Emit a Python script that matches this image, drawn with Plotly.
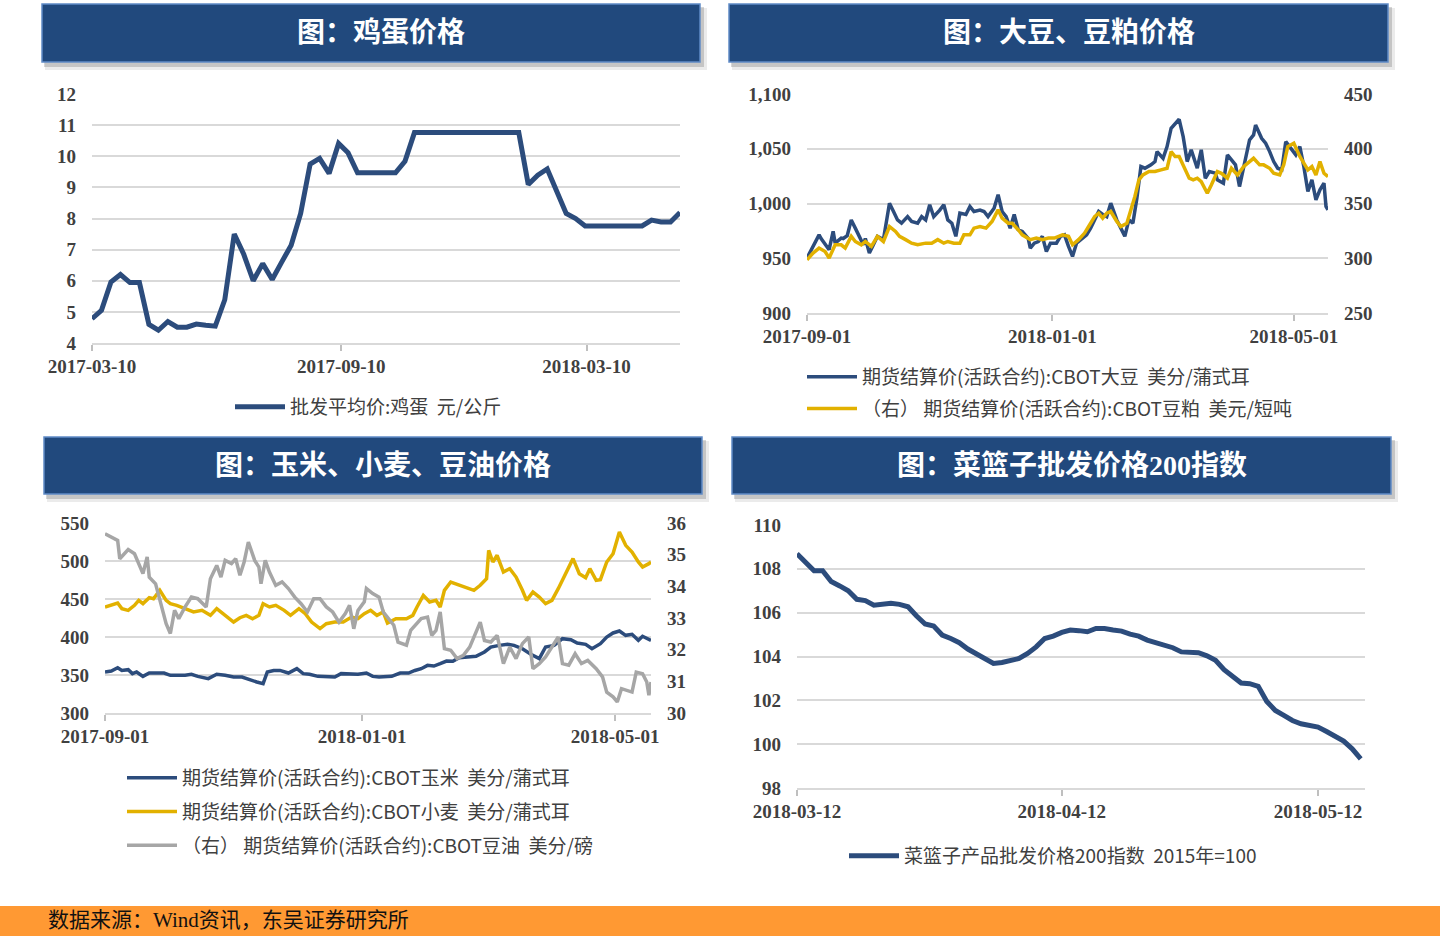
import plotly.graph_objects as go
import pandas as pd

# ---------------- DATA ----------------
# Chart 1: egg wholesale price, weekly from 2017-03-10 (yuan/kg)
egg_start = "2017-03-10"
egg_price = [4.78, 5.05, 5.96, 6.2, 5.94, 5.94, 4.6, 4.41, 4.69, 4.51,
             4.51, 4.61, 4.57, 4.54, 5.39, 7.5, 6.85, 6.0, 6.55, 6.04,
             6.6, 7.14, 8.16, 9.75, 9.93, 9.45, 10.41, 10.11, 9.47, 9.47,
             9.47, 9.47, 9.47, 9.84, 10.76, 10.76, 10.76, 10.76, 10.76, 10.76,
             10.76, 10.76, 10.76, 10.76, 10.76, 10.76, 9.09, 9.39, 9.59, 8.88,
             8.16, 8.0, 7.76, 7.76, 7.76, 7.76, 7.76, 7.76, 7.76, 7.95,
             7.89, 7.89, 8.19]
egg_ticks = ["2017-03-10", "2017-09-10", "2018-03-10"]

# Chart 2: CBOT soybean (left, US cents/bu) & soybean meal (right, USD/short ton)
# x values are days since 2017-09-01
soy_start = "2017-09-01"
soy_day = [0, 3, 6, 7, 10, 11, 13, 14, 17, 18,
           20, 22, 24, 26, 28, 29, 31, 33, 35, 38,
           41, 43, 45, 47, 50, 52, 55, 57, 59, 61,
           63, 66, 68, 70, 72, 74, 76, 79, 81, 83,
           86, 88, 90, 93, 95, 97, 99, 101, 103, 105,
           107, 110, 111, 113, 115, 117, 119, 121, 124, 126,
           128, 130, 132, 134, 137, 139, 141, 143, 145, 147,
           149, 151, 154, 156, 158, 160, 162, 164, 166, 168,
           171, 173, 174, 177, 179, 181, 183, 185, 187, 189,
           191, 194, 196, 198, 200, 203, 204, 207, 209, 211,
           213, 215, 217, 220, 222, 223, 226, 228, 230, 232,
           234, 236, 238, 240, 243, 245, 247, 249, 251, 253,
           255, 257, 258, 259]
soy_val = [950.2, 960.8, 971.4, 968, 960.8, 957.8, 974.5, 963.8, 968.4, 968,
           970.5, 985, 977.5, 970, 962.3, 968, 954.7, 962.3, 970, 967,
           1000.3, 992.7, 985, 982, 988, 983.6, 982, 988, 985, 998.8,
           988, 994, 998.8, 985, 982, 970, 991.2, 990, 997.3, 992.7,
           994, 992.7, 988, 995.7, 1008, 992.7, 988, 977.5, 990, 976,
           974.5, 968, 959.3, 963.8, 965.3, 970, 956.2, 963.8, 963.8, 970,
           971.4, 960.8, 951.7, 963.8, 968, 971.4, 977.5, 985, 992.7, 990,
           988, 1000.3, 985, 977.5, 970, 985, 982, 1004.9, 1033.7, 1032.2,
           1035.3, 1038.3, 1047.4, 1041.3, 1052, 1068.7, 1073.3, 1076.9, 1061, 1038.3,
           1049, 1032.2, 1049, 1023, 1029.2, 1027.7, 1021.6, 1018.5, 1044.4, 1039.8,
           1035.3, 1015.5, 1032.2, 1058, 1062.6, 1071.7, 1059.6, 1055, 1047.4, 1038.3,
           1032.2, 1030.7, 1056.5, 1052, 1044.4, 1052, 1033.7, 1011, 1021.6, 1003.4,
           1012.5, 1018.5, 997.3, 994.2]
meal_day = [0, 3, 6, 9, 11, 14, 17, 19, 22, 24,
            27, 29, 32, 35, 38, 41, 44, 46, 49, 52,
            55, 59, 62, 65, 68, 70, 73, 76, 78, 81,
            83, 86, 89, 92, 95, 97, 100, 102, 105, 107,
            111, 114, 117, 120, 123, 127, 130, 132, 135, 138,
            140, 143, 145, 147, 149, 151, 154, 156, 159, 161,
            163, 165, 167, 170, 173, 176, 179, 181, 183, 185,
            188, 190, 192, 194, 196, 199, 201, 204, 206, 209,
            211, 214, 217, 220, 222, 225, 227, 230, 232, 235,
            237, 239, 242, 245, 247, 249, 251, 253, 255, 257,
            259]
meal_val = [298.6, 304.7, 309.3, 306.2, 300.2, 312.3, 312.3, 309.3, 320, 315.3,
            312.3, 315.3, 310.8, 320, 315.3, 329, 324.5, 320, 317, 313.8,
            312.3, 313.8, 313.8, 317, 313.8, 315.3, 313.8, 313.8, 321.4, 321.4,
            327.5, 329, 327.5, 333.6, 344.2, 336.6, 332, 332, 326, 321.4,
            317, 318.4, 317, 318.4, 318.4, 321.4, 320, 312.3, 317, 323,
            329, 338.1, 341.2, 336.6, 341.2, 342.7, 333.6, 329, 332, 344.2,
            356.4, 371.6, 376.1, 379.2, 379.2, 380.7, 382.2, 397.4, 392.9, 392.9,
            380.7, 373.1, 371.6, 373.1, 370, 359.4, 367, 379.2, 377.6, 373.1,
            382.2, 376.1, 383.7, 388.3, 391.3, 385.3, 385.3, 382.2, 377.6, 376.1,
            385.3, 402, 405, 392.9, 386.8, 380.7, 383.7, 376.1, 388.3, 377.6,
            374.6]
soy_ticks = ["2017-09-01", "2018-01-01", "2018-05-01"]

# Chart 3: CBOT corn, wheat (left, US cents/bu) & soybean oil (right, US cents/lb)
corn_day = [0, 3, 6, 8, 11, 13, 15, 18, 21, 24,
            28, 31, 34, 38, 41, 44, 49, 53, 57, 61,
            65, 69, 72, 75, 77, 80, 83, 87, 91, 94,
            97, 101, 105, 109, 112, 116, 120, 124, 127, 130,
            133, 136, 140, 144, 147, 150, 153, 156, 159, 162,
            165, 168, 172, 176, 180, 183, 187, 191, 194, 198,
            202, 206, 209, 213, 217, 221, 224, 228, 231, 235,
            238, 241, 244, 247, 250, 253, 255, 259]
corn_val = [354, 355.3, 359.6, 356, 357, 351.8, 354, 348.2, 352.6, 352.6,
            352.6, 349.6, 349.6, 349.6, 351, 348.2, 345.2, 351, 349.6, 347.4,
            347.4, 343, 340.8, 338.6, 354, 356, 356, 352.6, 358.3, 351.8,
            351, 348.2, 347.4, 347.4, 351.8, 351.8, 351, 352.6, 348.2, 347.4,
            347.4, 348.2, 352.6, 352.6, 356, 358.3, 362.7, 361.8, 364.9, 368.4,
            368, 372.8, 373.7, 374.6, 380.3, 386.8, 389, 390.4, 389, 384.6,
            377.2, 371.5, 386.8, 389, 397.8, 396.5, 392.1, 390.4, 384.6, 391.2,
            400, 405.3, 407.9, 402.2, 403.5, 395.6, 401, 395.6]
wheat_day = [0, 3, 6, 8, 11, 14, 16, 18, 21, 23,
             26, 29, 31, 34, 38, 42, 46, 50, 53, 57,
             61, 64, 67, 70, 73, 75, 78, 81, 85, 88,
             92, 95, 98, 102, 105, 109, 113, 117, 120, 123,
             126, 129, 132, 134, 138, 143, 146, 148, 151, 154,
             157, 159, 161, 164, 168, 172, 175, 178, 181, 182,
             184, 186, 189, 192, 195, 198, 200, 203, 206, 209,
             212, 215, 219, 222, 225, 228, 230, 233, 235, 238,
             241, 244, 247, 250, 253, 255, 258, 259]
wheat_val = [439.5, 441.7, 444.7, 437.3, 435.1, 441.7, 448.2, 443.9, 451.8, 450.4,
             461.4, 448.2, 443.9, 441.7, 437.3, 432.9, 435.1, 428.5, 437.3, 428.5,
             419.7, 425.4, 428.5, 424.1, 428.5, 443.9, 439.5, 441.7, 435.1, 428.5,
             437.3, 430.7, 419.7, 411, 417.5, 419.7, 419.7, 426.3, 424.1, 430.7,
             435.1, 428.5, 432.9, 418.4, 424.1, 424.1, 428.5, 439.5, 454.8, 446,
             448.2, 439.5, 461.4, 472.4, 468, 463.6, 461.4, 468, 476.8, 514,
             498.7, 507.5, 485.5, 489.9, 478.9, 461.4, 448.2, 459.2, 452.6, 443.9,
             448.2, 463.6, 487.7, 503.1, 483.3, 478.1, 489.9, 474.6, 475.4, 498.7,
             509.6, 538.2, 520.6, 511.8, 498.7, 492.1, 496.5, 498.7]
oil_day = [0, 3, 6, 7, 9, 11, 14, 16, 18, 20,
           21, 24, 26, 29, 31, 33, 35, 38, 41, 44,
           48, 50, 53, 55, 57, 60, 62, 64, 66, 68,
           71, 73, 74, 76, 78, 81, 84, 87, 90, 93,
           96, 99, 102, 105, 108, 111, 114, 116, 118, 120,
           123, 124, 127, 130, 132, 134, 137, 139, 143, 145,
           147, 150, 153, 155, 157, 159, 161, 164, 167, 170,
           173, 176, 178, 180, 183, 186, 189, 192, 195, 198,
           201, 203, 206, 209, 212, 215, 217, 220, 223, 226,
           229, 233, 236, 238, 241, 243, 245, 248, 250, 252,
           255, 257, 258, 259]
oil_val = [35.66, 35.56, 35.45, 34.87, 35.03, 35.16, 35.03, 34.72, 34.4, 34.93,
           34.29, 34.08, 33.61, 32.82, 32.51, 33.24, 32.98, 33.35, 33.66, 33.61,
           33.35, 34.24, 34.66, 34.29, 34.82, 34.72, 34.87, 34.35, 34.77, 35.4,
           34.82, 34.61, 34.08, 34.82, 34.45, 34.03, 34.14, 33.93, 33.66, 33.45,
           33.19, 33.61, 33.61, 33.35, 33.19, 32.87, 33.14, 33.4, 32.66, 33.24,
           33.51, 33.93, 33.77, 33.66, 33.19, 33.03, 32.77, 32.24, 32.14, 32.61,
           32.77, 32.98, 33.03, 32.45, 32.61, 33.19, 32.03, 31.98, 31.72, 31.82,
           32.08, 32.56, 32.87, 32.29, 32.24, 32.45, 31.56, 32.08, 31.72, 32.19,
           32.4, 31.4, 31.56, 31.77, 32.08, 32.4, 31.56, 31.51, 31.87, 31.56,
           31.66, 31.4, 31.14, 30.66, 30.51, 30.35, 30.77, 30.72, 30.66, 31.29,
           31.24, 30.98, 30.56, 30.98]

# Chart 4: vegetable basket wholesale price 200 index (2015=100), daily from 2018-03-12
veg_start = "2018-03-12"
veg_index = [108.69, 108.29, 107.91, 107.91, 107.42, 107.22, 107.0, 106.61, 106.55, 106.34,
             106.37, 106.43, 106.38, 106.27, 105.85, 105.48, 105.39, 104.98, 104.82, 104.63,
             104.34, 104.11, 103.86, 103.68, 103.73, 103.83, 103.91, 104.14, 104.44, 104.82,
             104.93, 105.1, 105.21, 105.18, 105.13, 105.28, 105.28, 105.21, 105.16, 105.02,
             104.93, 104.75, 104.63, 104.56, 104.4, 104.21, 104.18, 104.17, 104.03, 103.83,
             103.4, 103.1, 102.79, 102.76, 102.64, 101.95, 101.54, 101.31, 101.08, 100.93,
             100.85, 100.78, 100.58, 100.35, 100.14, 99.79, 99.33]
veg_ticks = ["2018-03-12", "2018-04-12", "2018-05-12"]

# ---------------- STYLE ----------------
W, H = 1440, 936
BLUE = "#2C4C7C"
GOLD = "#E2B100"
GRAY = "#A6A6A6"
GRID = "#D9D9D9"
BAR = "#21497D"
BAR_EDGE = "#5F8BC6"
TXT = "#404040"
TICKFONT = dict(family="Liberation Serif", size=19, color=TXT, weight="bold")
LEGFONT = dict(family="Noto Sans CJK SC", size=19, color=TXT)
TITLEFONT = dict(family="Liberation Serif, Noto Sans CJK SC", size=28, color="white", weight="bold")


def px(x):
    return x / W


def py(y):
    return 1 - y / H


def to_dates(start, offsets):
    return pd.Timestamp(start) + pd.to_timedelta(offsets, unit="D")


egg_dates = pd.date_range(egg_start, periods=len(egg_price), freq="7D")
veg_dates = pd.date_range(veg_start, periods=len(veg_index), freq="D")

fig = go.Figure()

fig.add_trace(go.Scatter(x=egg_dates, y=egg_price, mode="lines",
                         line=dict(color=BLUE, width=5), showlegend=True,
                         name="批发平均价:鸡蛋\u00a0\u00a0元/公斤",
                         xaxis="x", yaxis="y", legend="legend"))

fig.add_trace(go.Scatter(x=to_dates(soy_start, soy_day), y=soy_val, mode="lines",
                         line=dict(color=BLUE, width=3.5), showlegend=True,
                         name="期货结算价(活跃合约):CBOT大豆\u00a0\u00a0美分/蒲式耳",
                         xaxis="x2", yaxis="y2", legend="legend2", legendgroup="a"))
fig.add_trace(go.Scatter(x=to_dates(soy_start, meal_day), y=meal_val, mode="lines",
                         line=dict(color=GOLD, width=3.5), showlegend=True,
                         name="（右）\u00a0期货结算价(活跃合约):CBOT豆粕\u00a0\u00a0美元/短吨",
                         xaxis="x2", yaxis="y3", legend="legend2", legendgroup="b"))

fig.add_trace(go.Scatter(x=to_dates(soy_start, corn_day), y=corn_val, mode="lines",
                         line=dict(color=BLUE, width=3.5), showlegend=True,
                         name="期货结算价(活跃合约):CBOT玉米\u00a0\u00a0美分/蒲式耳",
                         xaxis="x3", yaxis="y4", legend="legend3", legendgroup="c"))
fig.add_trace(go.Scatter(x=to_dates(soy_start, wheat_day), y=wheat_val, mode="lines",
                         line=dict(color=GOLD, width=3.5), showlegend=True,
                         name="期货结算价(活跃合约):CBOT小麦\u00a0\u00a0美分/蒲式耳",
                         xaxis="x3", yaxis="y4", legend="legend3", legendgroup="d"))
fig.add_trace(go.Scatter(x=to_dates(soy_start, oil_day), y=oil_val, mode="lines",
                         line=dict(color=GRAY, width=3.5), showlegend=True,
                         name="（右）\u00a0期货结算价(活跃合约):CBOT豆油\u00a0\u00a0美分/磅",
                         xaxis="x3", yaxis="y5", legend="legend3", legendgroup="e"))

fig.add_trace(go.Scatter(x=veg_dates, y=veg_index, mode="lines",
                         line=dict(color=BLUE, width=5), showlegend=True,
                         name="菜篮子产品批发价格200指数\u00a0\u00a02015年=100",
                         xaxis="x4", yaxis="y6", legend="legend4"))


def xcfg(x0, x1, y_anchor, rng, ticks):
    return dict(domain=[px(x0), px(x1)], anchor=y_anchor, type="date", range=rng,
                tickvals=ticks, ticktext=ticks, showgrid=False, zeroline=False,
                showline=True, linecolor=GRID, linewidth=2, automargin=False,
                ticks="outside", ticklen=6, tickcolor="#BFBFBF", tickwidth=1.5,
                tickfont=TICKFONT, ticklabelstandoff=-1, fixedrange=True)


def ycfg(ytop, ybot, x_anchor, rng, dtick, fmt="", side="left", overlay=None):
    d = dict(anchor=x_anchor, range=rng, dtick=dtick, tick0=rng[0], side=side,
             tickformat=fmt, tickfont=TICKFONT, ticks="", zeroline=False,
             showline=False, ticklabelstandoff=15, fixedrange=True, automargin=False)
    if overlay:
        d.update(overlaying=overlay, showgrid=False)
    else:
        d.update(domain=[py(ybot), py(ytop)], showgrid=True, gridcolor=GRID, gridwidth=2)
    return d


fig.update_layout(
    template="none", showlegend=True,
    width=W, height=H, margin=dict(l=0, r=0, t=0, b=0, pad=0, autoexpand=False),
    paper_bgcolor="white", plot_bgcolor="white",
    xaxis=xcfg(92, 680, "y", ["2017-03-10", "2018-05-18"], egg_ticks),
    yaxis=ycfg(94, 343, "x", [4, 12], 1),
    xaxis2=xcfg(807, 1328, "y2", ["2017-09-01", "2018-05-18"], soy_ticks),
    yaxis2=ycfg(94, 313, "x2", [900, 1100], 50, fmt=","),
    yaxis3=ycfg(94, 313, "x2", [250, 450], 50, side="right", overlay="y2"),
    xaxis3=xcfg(105, 651, "y4", ["2017-09-01", "2018-05-18"], soy_ticks),
    yaxis4=ycfg(523, 713, "x3", [300, 550], 50),
    yaxis5=ycfg(523, 713, "x3", [30, 36], 1, side="right", overlay="y4"),
    xaxis4=xcfg(797, 1365, "y6", ["2018-03-12", "2018-05-17 12:00"], veg_ticks),
    yaxis6=ycfg(525, 788, "x4", [98, 110], 2),
    legend=dict(x=px(230), y=py(407), xanchor="left", yanchor="middle",
                font=LEGFONT, bgcolor="rgba(0,0,0,0)", itemwidth=50, borderwidth=0),
    legend2=dict(x=px(802), y=py(393), xanchor="left", yanchor="middle",
                 font=LEGFONT, bgcolor="rgba(0,0,0,0)", itemwidth=50, borderwidth=0,
                 tracegroupgap=4, traceorder="grouped"),
    legend3=dict(x=px(122), y=py(812), xanchor="left", yanchor="middle",
                 font=LEGFONT, bgcolor="rgba(0,0,0,0)", itemwidth=50, borderwidth=0,
                 tracegroupgap=6, traceorder="grouped"),
    legend4=dict(x=px(844), y=py(856), xanchor="left", yanchor="middle",
                 font=LEGFONT, bgcolor="rgba(0,0,0,0)", itemwidth=50, borderwidth=0),
)

# Title bars with drop shadows
bars = [(42, 4, 700, 62, "图：鸡蛋价格"),
        (729, 4, 1388, 62, "图：大豆、豆粕价格"),
        (44, 437, 702, 494, "图：玉米、小麦、豆油价格"),
        (732, 437, 1391, 494, "图：菜篮子批发价格200指数")]
shapes = []
annotations = []
for x0, y0, x1, y1, title in bars:
    shapes.append(dict(type="rect", xref="paper", yref="paper", layer="below",
                       x0=px(x0 + 3), x1=px(x1 + 7), y0=py(y0 + 4), y1=py(y1 + 8),
                       fillcolor="rgba(0,0,0,0.08)", line=dict(width=0)))
    shapes.append(dict(type="rect", xref="paper", yref="paper", layer="below",
                       x0=px(x0 + 2), x1=px(x1 + 4), y0=py(y0 + 3), y1=py(y1 + 5),
                       fillcolor="rgba(0,0,0,0.16)", line=dict(width=0)))
    shapes.append(dict(type="rect", xref="paper", yref="paper", layer="below",
                       x0=px(x0), x1=px(x1), y0=py(y0), y1=py(y1),
                       fillcolor=BAR, line=dict(color=BAR_EDGE, width=1.5)))
    annotations.append(dict(xref="paper", yref="paper", x=px((x0 + x1) / 2 + 10),
                            y=py((y0 + y1) / 2), text=title, showarrow=False,
                            xanchor="center", yanchor="middle", font=TITLEFONT))

# Footer bar
shapes.append(dict(type="rect", xref="paper", yref="paper", layer="below",
                   x0=0, x1=1, y0=0, y1=py(906),
                   fillcolor="#FF9933", line=dict(width=0)))
annotations.append(dict(xref="paper", yref="paper", x=px(46), y=py(920),
                        text="数据来源：Wind资讯，东吴证券研究所", showarrow=False,
                        xanchor="left", yanchor="middle",
                        font=dict(family="Liberation Serif, Noto Sans CJK SC", size=21, color="#111111")))

fig.update_layout(shapes=shapes, annotations=annotations)

fig.write_html("out.html")
